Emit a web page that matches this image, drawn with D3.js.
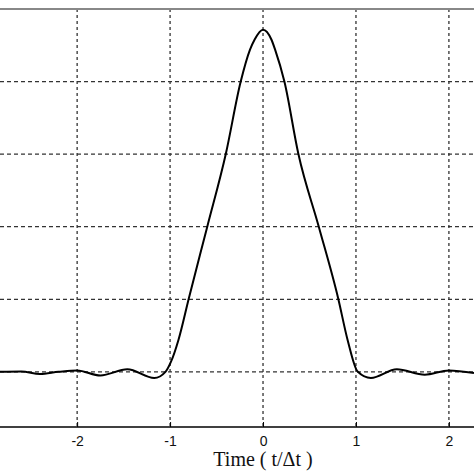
<!DOCTYPE html>
<html>
<head>
<meta charset="utf-8">
<script src="https://cdn.jsdelivr.net/npm/d3@7"></script>
<style>
  html, body { margin: 0; padding: 0; background: #fff; }
  svg { display: block; }
</style>
</head>
<body>
<svg id="chart"></svg>
<script>
// pulse shape (time in t/dt, amplitude)
var timeVals = [-2.83, -2.6, -2.4, -2.2, -2.0, -1.75, -1.46, -1.17, -1.05, -0.99, -0.91, -0.80,
                -0.60, -0.40, -0.24, -0.14, -0.09, 0.0, 0.09, 0.13, 0.23, 0.38,
                0.60, 0.81, 0.91, 1.02, 1.16, 1.44, 1.74, 2.0, 2.27];
var amplVals = [0.0, 0.001, -0.006, 0.0, 0.004, -0.010, 0.007, -0.017, 0.0, 0.028, 0.088, 0.201,
                0.400, 0.601, 0.800, 0.888, 0.916, 0.943, 0.916, 0.888, 0.800, 0.601,
                0.400, 0.201, 0.088, 0.0, -0.017, 0.007, -0.008, 0.004, -0.003];
var xTicks = [-2, -1, 0, 1, 2];
var yGrid = [0, 0.2, 0.4, 0.6, 0.8];
var xLabel = "Time ( t/\u0394t )";

var width = 474,
    height = 474;

var svg = d3.select("#chart")
    .attr("width", width)
    .attr("height", height);

var x = d3.scaleLinear()
    .domain([-2.83, 2.27])
    .range([0, width]);

var y = d3.scaleLinear()
    .domain([-0.152, 1.0])
    .range([427, 9]);

// horizontal grid
svg.append("g").selectAll("line")
    .data(yGrid)
    .enter().append("line")
    .attr("x1", 0)
    .attr("x2", width)
    .attr("y1", function (d) { return y(d); })
    .attr("y2", function (d) { return y(d); })
    .style("stroke", "#333")
    .style("stroke-width", 1.3)
    .style("stroke-dasharray", "4,3");

// vertical grid
svg.append("g").selectAll("line")
    .data(xTicks)
    .enter().append("line")
    .attr("x1", function (d) { return x(d); })
    .attr("x2", function (d) { return x(d); })
    .attr("y1", y(1.0))
    .attr("y2", y(-0.152))
    .style("stroke", "#333")
    .style("stroke-width", 1.3)
    .style("stroke-dasharray", "3,3");

// top border of the box
svg.append("line")
    .attr("x1", 0).attr("x2", width)
    .attr("y1", y(1.0)).attr("y2", y(1.0))
    .style("stroke", "#888")
    .style("stroke-width", 2);

// x axis
var xAxis = d3.axisBottom(x)
    .tickValues(xTicks)
    .tickSizeInner(-5)
    .tickSizeOuter(0)
    .tickPadding(9);

var ax = svg.append("g")
    .attr("transform", "translate(0," + y(-0.152) + ")")
    .call(xAxis);
ax.select(".domain").attr("d", "M0,0H" + width).style("stroke", "#000").style("stroke-width", 1.5);
ax.selectAll(".tick line").style("stroke", "#000");
ax.selectAll(".tick text")
    .style("font-family", "'Liberation Sans', Arial, sans-serif")
    .style("font-size", "14px")
    .style("fill", "#111")
    .text(function (d) { return d < 0 ? "-" + Math.abs(d) : d; });

svg.append("text")
    .attr("x", x(0))
    .attr("y", 466)
    .attr("text-anchor", "middle")
    .style("font-family", "'Liberation Serif', 'Times New Roman', serif")
    .style("font-size", "20px")
    .style("fill", "#111")
    .text(xLabel);

// pulse curve
var line = d3.line()
    .x(function (d, i) { return x(timeVals[i]); })
    .y(function (d) { return y(d); })
    .curve(d3.curveMonotoneX);

svg.append("path")
    .datum(amplVals)
    .attr("d", line)
    .style("fill", "none")
    .style("stroke", "#000")
    .style("stroke-width", 2);
</script>
</body>
</html>
